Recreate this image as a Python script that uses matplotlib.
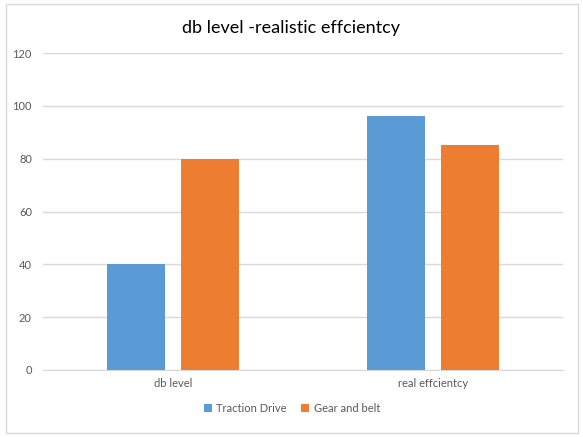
import numpy as np
import matplotlib
matplotlib.use('Agg')
from matplotlib import pyplot as plt
from matplotlib.patches import Rectangle

categories = ['db level', 'real effcientcy']
traction_drive = [40, 96.2]
gear_and_belt = [80, 85]
series_names = ['Traction Drive', 'Gear and belt']
yticks = [0, 20, 40, 60, 80, 100, 120]

plt.rcParams['font.family'] = ['Lato', 'DejaVu Sans']

fig = plt.figure(figsize=(5.83, 4.37), dpi=100)
# outer chart border like excel
fig.patches.append(Rectangle((6 / 583, 4 / 437), 572 / 583, 429 / 437, transform=fig.transFigure,
                             fill=False, edgecolor='#D9D9D9', linewidth=1))
ax = fig.add_axes([43 / 583, 1 - 370 / 437, 520 / 583, 317 / 437])

x = np.arange(len(categories))
w = 0.223
off = 0.142
ax.bar(x - off, traction_drive, w, color='#5B9BD5', label=series_names[0], zorder=3)
ax.bar(x + off, gear_and_belt, w, color='#ED7D31', label=series_names[1], zorder=3)

ax.set_xlim(-0.5, 1.5)
ax.set_ylim(0, 120)
ax.set_yticks(yticks)
ax.set_xticks(x)
ax.set_xticklabels(categories)
ax.grid(axis='y', color='#D9D9D9', linewidth=1, zorder=0)
for s in ['top', 'right', 'left']:
    ax.spines[s].set_visible(False)
ax.spines['bottom'].set_color('#D9D9D9')
ax.tick_params(axis='both', length=0, colors='#595959', labelsize=8)
ax.tick_params(axis='y', pad=8)
ax.tick_params(axis='x', pad=6)

fig.text(0.5, 1 - 28 / 437, 'db level -realistic effcientcy', ha='center', va='center',
         fontsize=13, color='#000000')

ax.legend(loc='center', bbox_to_anchor=(292 / 583, 1 - 408 / 437), bbox_transform=fig.transFigure,
          ncol=2, frameon=False, fontsize=8, labelcolor='#595959',
          handlelength=0.7, handleheight=0.7, handletextpad=0.4, columnspacing=1.3)

plt.savefig('out.png', dpi=100)
